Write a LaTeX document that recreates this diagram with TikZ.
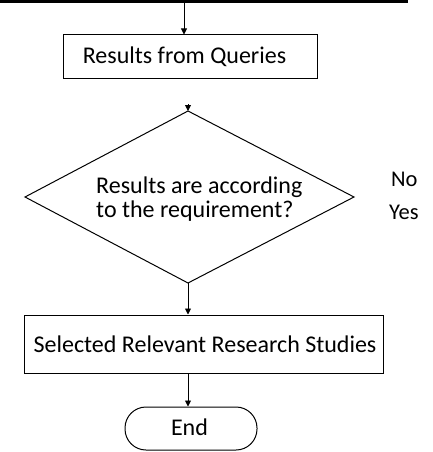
\documentclass[tikz,border=0pt]{standalone}
\usepackage{fontspec}
\setmainfont{Carlito}
\usetikzlibrary{arrows.meta,shapes.geometric}
\begin{document}
\begin{tikzpicture}[x=1pt,y=-1pt,
  box/.style={draw,line width=1pt,inner sep=0pt},
  lbl/.style={font=\fontsize{24}{29}\selectfont,inner sep=0pt,anchor=base},
  sidelbl/.style={font=\fontsize{22.5}{26}\selectfont,inner sep=0pt,anchor=base west},
  arr/.style={line width=0.9pt,-{Triangle[length=6pt,width=6pt]}}]
\useasboundingbox (0,0) rectangle (432,452);
\draw[line width=3pt] (0,1.5) -- (408,1.5);
\coordinate (topin) at (184,3);
\node[box,minimum width=254pt,minimum height=43pt] (q) at (190,56.5) {};
\node[lbl] (qt) at (184.5,63.5) {Results from Queries};
\coordinate (dtop) at (188,111);
\coordinate (dleft) at (25,197);
\coordinate (dright) at (354,197);
\coordinate (dbot) at (188,283);
\draw[line width=1pt] (dtop) -- (dright) -- (dbot) -- (dleft) -- cycle;
\node[lbl,anchor=base west] (dt1) at (96,193) {Results are according};
\node[lbl,anchor=base west] (dt2) at (96,217) {to the requirement?};
\node[sidelbl] (no) at (391,186) {No};
\node[sidelbl] (yes) at (389,219) {Yes};
\node[box,minimum width=359pt,minimum height=58pt] (s) at (203.5,344) {};
\node[lbl] (st) at (205,352) {Selected Relevant Research Studies};
\node[box,minimum width=132pt,minimum height=43pt,rounded corners=21pt] (e) at (191,428.5) {};
\node[lbl] (et) at (189.5,435.5) {End};
\coordinate (pre) at (188,104);
\draw[arr] (topin) -- (topin |- q.north);
\draw[arr] (pre) -- (dtop);
\draw[arr] (dbot) -- (dbot |- s.north);
\draw[arr] (dbot |- s.south) -- (dbot |- e.north);
\end{tikzpicture}
\end{document}
